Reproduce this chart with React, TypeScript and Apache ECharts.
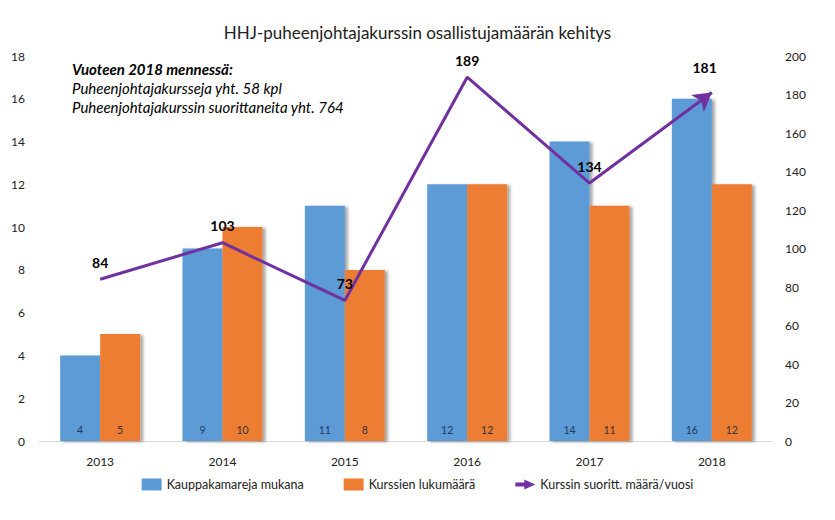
import React, { useEffect, useRef } from 'react';
import * as echarts from 'echarts';

// vuodet ja sarjat
const years = ['2013', '2014', '2015', '2016', '2017', '2018'];
const kauppakamarit = [4, 9, 11, 12, 14, 16];
const kurssit = [5, 10, 8, 12, 11, 12];
const suorittaneet = [84, 103, 73, 189, 134, 181];

const leftTicks = { min: 0, max: 18, interval: 2 };
const rightTicks = { min: 0, max: 200, interval: 20 };

const FONT = 'Lato, "Open Sans", sans-serif';
const BLUE = '#5B9BD5';
const ORANGE = '#ED7D31';
const PURPLE = '#7030A0';

const arrowIcon = 'path://M0,3 L9,3 L9,0 L20,5 L9,10 L9,7 L0,7 Z';

const App = () => {
    const chartRef = useRef(null);

    useEffect(() => {
        const chart = echarts.init(chartRef.current, null, { renderer: 'svg' });

        const barShadow = {
            shadowColor: 'rgba(0,0,0,0.35)',
            shadowBlur: 3,
            shadowOffsetX: 3,
            shadowOffsetY: 1,
        };

        const options = {
            animation: false,
            textStyle: { fontFamily: FONT },
            title: {
                text: 'HHJ-puheenjohtajakurssin osallistujamäärän kehitys',
                left: 'center',
                top: 19,
                textStyle: { fontFamily: FONT, fontSize: 17, fontWeight: 'normal', color: '#222' },
            },
            grid: { left: 39, right: 62, top: 56, bottom: 79 },
            legend: {
                bottom: 24,
                left: 'center',
                itemGap: 40,
                itemWidth: 20,
                itemHeight: 12,
                textStyle: { fontFamily: FONT, fontSize: 12.5, color: '#222' },
                data: [
                    { name: 'Kauppakamareja mukana', icon: 'rect' },
                    { name: 'Kurssien lukumäärä', icon: 'rect' },
                    { name: 'Kurssin suoritt. määrä/vuosi', icon: arrowIcon, itemStyle: { color: PURPLE } },
                ],
            },
            xAxis: {
                type: 'category',
                data: years,
                axisLine: { lineStyle: { color: '#d9d9d9', width: 1 } },
                axisTick: { show: false },
                axisLabel: { color: '#222', fontSize: 12, margin: 14 },
            },
            yAxis: [
                {
                    type: 'value',
                    ...leftTicks,
                    splitLine: { show: false },
                    axisLine: { show: false },
                    axisLabel: { color: '#222', fontSize: 12, margin: 14 },
                },
                {
                    type: 'value',
                    ...rightTicks,
                    splitLine: { show: false },
                    axisLine: { show: false },
                    axisLabel: { color: '#222', fontSize: 12, margin: 12, align: 'left' },
                },
            ],
            graphic: [
                {
                    type: 'text',
                    left: 72,
                    top: 61,
                    style: {
                        text: 'Vuoteen 2018 mennessä:',
                        font: 'italic bold 15px ' + FONT,
                        fill: '#000',
                    },
                },
                {
                    type: 'text',
                    left: 72,
                    top: 80,
                    style: {
                        text: 'Puheenjohtajakursseja yht. 58 kpl',
                        font: 'italic 15px ' + FONT,
                        fill: '#000',
                    },
                },
                {
                    type: 'text',
                    left: 72,
                    top: 99,
                    style: {
                        text: 'Puheenjohtajakurssin suorittaneita yht. 764',
                        font: 'italic 15px ' + FONT,
                        fill: '#000',
                    },
                },
            ],
            series: [
                {
                    name: 'Kauppakamareja mukana',
                    type: 'bar',
                    data: kauppakamarit,
                    barWidth: 40,
                    barGap: '0%',
                    itemStyle: { color: BLUE, ...barShadow },
                    label: {
                        show: true,
                        position: 'insideBottom',
                        distance: 6,
                        fontSize: 10.5,
                        color: '#1f3864',
                    },
                },
                {
                    name: 'Kurssien lukumäärä',
                    type: 'bar',
                    data: kurssit,
                    barWidth: 40,
                    barGap: '0%',
                    itemStyle: { color: ORANGE, ...barShadow },
                    label: {
                        show: true,
                        position: 'insideBottom',
                        distance: 6,
                        fontSize: 10.5,
                        color: '#333',
                    },
                },
                {
                    name: 'Kurssin suoritt. määrä/vuosi',
                    type: 'line',
                    yAxisIndex: 1,
                    data: suorittaneet.map((v, i) =>
                        i === suorittaneet.length - 1
                            ? { value: v, symbol: 'arrow', symbolSize: [16, 18], symbolRotate: -53 }
                            : { value: v }
                    ),
                    symbol: 'circle',
                    symbolSize: 0.1,
                    showSymbol: true,
                    lineStyle: { color: PURPLE, width: 3 },
                    itemStyle: { color: PURPLE },
                    label: {
                        show: true,
                        position: 'top',
                        distance: 10,
                        fontSize: 14,
                        fontWeight: 'bold',
                        color: '#000',
                    },
                    z: 5,
                },
            ],
        };

        chart.setOption(options);

        return () => {
            chart.dispose();
        };
    }, []);

    return (
        <div
            ref={chartRef}
            style={{ position: 'absolute', left: 0, top: 0, width: '835px', height: '520px' }}
        ></div>
    );
};

export default App;
